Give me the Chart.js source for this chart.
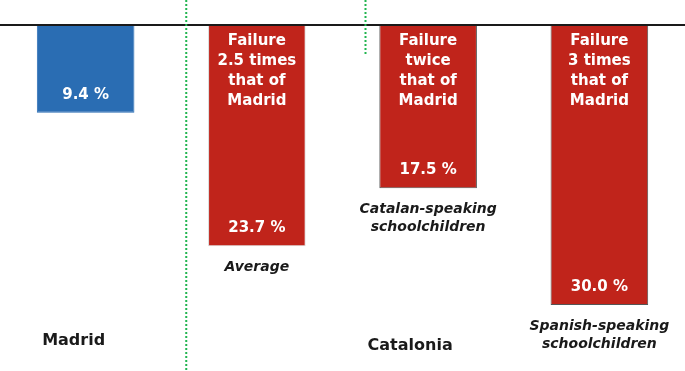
<!DOCTYPE html>
<html>
<head>
<meta charset="utf-8">
<script src="https://cdn.jsdelivr.net/npm/chart.js@4/dist/chart.umd.min.js"></script>
<style>
html,body{margin:0;padding:0;background:#fff;}
#wrap{width:685px;height:371px;position:relative;}
</style>
</head>
<body>
<div id="wrap"><canvas id="c" width="685" height="371"></canvas></div>
<script>
const categories = ["Madrid", "Average", "Catalan-speaking schoolchildren", "Spanish-speaking schoolchildren"];
const failureRates = [9.4, 23.7, 17.5, 30.0];
const valueLabels = ["9.4 %", "23.7 %", "17.5 %", "30.0 %"];
const headLabels = [[], ["Failure", "2.5 times", "that of", "Madrid"], ["Failure", "twice", "that of", "Madrid"], ["Failure", "3 times", "that of", "Madrid"]];
const belowLabels = [[], ["Average"], ["Catalan-speaking", "schoolchildren"], ["Spanish-speaking", "schoolchildren"]];
const groupLabels = ["Madrid", "Catalonia"];
const barColors = ["#2a6db3", "#c0241b", "#c0241b", "#c0241b"];

const FONT = "'DejaVu Sans', Verdana, sans-serif";

const textPlugin = {
  id: 'textPlugin',
  afterDatasetsDraw(chart) {
    const ctx = chart.ctx;
    const meta = chart.getDatasetMeta(0);
    const xs = chart.scales.x;
    const area = chart.chartArea;
    ctx.save();
    // top baseline
    ctx.strokeStyle = '#1a1a1a';
    ctx.lineWidth = 2;
    ctx.beginPath();
    ctx.moveTo(0, area.top);
    ctx.lineTo(chart.width, area.top);
    ctx.stroke();
    // dotted separators
    const b1 = (xs.getPixelForValue(0) + xs.getPixelForValue(1)) / 2 + 15;
    const b2 = (xs.getPixelForValue(1) + xs.getPixelForValue(2)) / 2 + 23;
    ctx.strokeStyle = '#22b550';
    ctx.lineWidth = 2;
    ctx.setLineDash([2, 2]);
    ctx.beginPath();
    ctx.moveTo(b1, 0); ctx.lineTo(b1, chart.height);
    ctx.moveTo(b2, 0); ctx.lineTo(b2, 56);
    ctx.stroke();
    ctx.setLineDash([]);
    ctx.textAlign = 'center';
    ctx.textBaseline = 'middle';
    meta.data.forEach((bar, i) => {
      const x = bar.x;
      const bottom = bar.y;
      ctx.fillStyle = '#ffffff';
      ctx.font = 'bold 15px ' + FONT;
      headLabels[i].forEach((t, j) => ctx.fillText(t, x, area.top + 16 + j * 20));
      ctx.fillText(valueLabels[i], x, bottom - 18);
      ctx.fillStyle = '#1a1a1a';
      ctx.font = 'italic bold 14px ' + FONT;
      belowLabels[i].forEach((t, j) => ctx.fillText(t, x, bottom + 21 + j * 18));
    });
    ctx.font = 'bold 16px ' + FONT;
    ctx.fillStyle = '#1a1a1a';
    ctx.fillText(groupLabels[0], xs.getPixelForValue(0) - 12, 341);
    ctx.fillText(groupLabels[1], xs.getPixelForValue(2) - 18, 346);
    ctx.restore();
  }
};

new Chart(document.getElementById('c'), {
  type: 'bar',
  data: {
    labels: categories,
    datasets: [{
      data: failureRates,
      backgroundColor: barColors,
      borderColor: ["#2a6db3", "#d9d9d9", "#555555", "#555555"],
      borderWidth: 1,
      borderSkipped: false,
      barPercentage: 0.57,
      categoryPercentage: 1.0
    }]
  },
  options: {
    responsive: false,
    animation: false,
    layout: { padding: { top: 25, bottom: 66, left: 0, right: 0 } },
    plugins: { legend: { display: false }, tooltip: { enabled: false } },
    scales: {
      x: { display: false },
      y: { display: false, reverse: true, min: 0, max: 30 }
    }
  },
  plugins: [textPlugin]
});
</script>
</body>
</html>
